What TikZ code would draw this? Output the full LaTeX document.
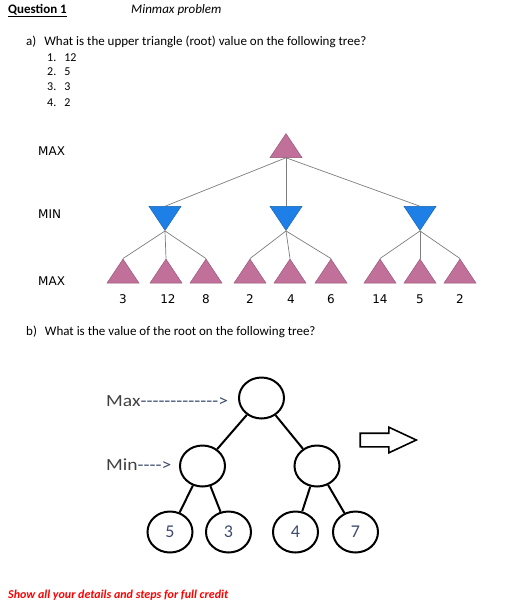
\documentclass[tikz,border=0pt]{standalone}
\usepackage{fontspec}
\setmainfont{Carlito}
\newfontfamily\treefont{DejaVu Sans}
\usetikzlibrary{positioning,shapes.geometric,shapes.arrows}

\definecolor{maxpink}{RGB}{193,112,154}
\definecolor{minblue}{RGB}{30,128,230}
\definecolor{edgegray}{RGB}{125,125,125}
\definecolor{inkgray}{RGB}{64,64,64}
\definecolor{dashblue}{RGB}{60,75,110}

\tikzset{
    maxtri/.style={isosceles triangle, isosceles triangle stretches, shape border rotate=90,
        minimum width=32pt, minimum height=24pt, inner sep=0pt, fill=maxpink, draw=maxpink!75!black, line width=0.4pt},
    mintri/.style={maxtri, shape border rotate=270, fill=minblue, draw=minblue!75!black},
    treeedge/.style={draw=edgegray, line width=0.7pt},
    leafval/.style={font=\treefont\fontsize{12}{14}\selectfont, inner sep=0pt, anchor=base},
    levellabel/.style={font=\treefont\fontsize{12}{14}\selectfont, anchor=base west, inner sep=0pt},
    bubble/.style={ellipse, draw, line width=2pt, minimum width=45pt, minimum height=41pt, inner sep=0pt,
        font=\fontsize{18}{20}\selectfont, text=dashblue},
    bubbleedge/.style={draw, line width=2pt},
    plain/.style={anchor=base west, inner sep=0pt},
    pointer/.style={plain, font=\fontsize{17}{19}\selectfont}
}

\begin{document}
\begin{tikzpicture}[x=1pt, y=-1pt, font=\fontsize{13}{15}\selectfont]
    \useasboundingbox (0,0) rectangle (506,606);

    % heading
    \node[plain] (qtitle) at (8,13) {\textbf{\underline{Question 1}}};
    \node[plain] (qtopic) at (131,13) {\textit{Minmax problem}};

    % part a
    \node[plain] (parta) at (26,45.5) {a)\hspace{8pt}What is the upper triangle (root) value on the following tree?};
    \node[plain] (opt1) at (47,61) {\fontsize{12}{14}\selectfont 1.\hspace{8pt}12};
    \node[plain] (opt2) at (47,75) {\fontsize{12}{14}\selectfont 2.\hspace{8pt}5};
    \node[plain] (opt3) at (47,90) {\fontsize{12}{14}\selectfont 3.\hspace{8pt}3};
    \node[plain] (opt4) at (47,106) {\fontsize{12}{14}\selectfont 4.\hspace{8pt}2};

    \node[levellabel] (lvlmax) at (38,155) {MAX};
    \node[levellabel] (lvlmin) at (38,218) {MIN};
    \node[levellabel] (lvlleaf) at (38,285) {MAX};

    % game tree
    \node[maxtri] (root) at (286,149) {};
    \node[mintri] (minA) at (165,215) {};
    \node[mintri] (minB) at (286,215) {};
    \node[mintri] (minC) at (420,215) {};

    \node[maxtri] (leafA1) at (123,274.5) {};
    \node[maxtri] (leafA2) at (166,274.5) {};
    \node[maxtri] (leafA3) at (206,274.5) {};
    \node[maxtri] (leafB1) at (250,274.5) {};
    \node[maxtri] (leafB2) at (290,274.5) {};
    \node[maxtri] (leafB3) at (331,274.5) {};
    \node[maxtri] (leafC1) at (380,274.5) {};
    \node[maxtri] (leafC2) at (420,274.5) {};
    \node[maxtri] (leafC3) at (460,274.5) {};

    \node[leafval] (valA1) at (123,303) {3};
    \node[leafval] (valA2) at (168,303) {12};
    \node[leafval] (valA3) at (206,303) {8};
    \node[leafval] (valB1) at (250,303) {2};
    \node[leafval] (valB2) at (291,303) {4};
    \node[leafval] (valB3) at (331,303) {6};
    \node[leafval] (valC1) at (380,303) {14};
    \node[leafval] (valC2) at (420,303) {5};
    \node[leafval] (valC3) at (460,303) {2};

    \draw[treeedge] (root.lower side) -- (minA.lower side);
    \draw[treeedge] (root.lower side) -- (minB.lower side);
    \draw[treeedge] (root.lower side) -- (minC.lower side);

    \draw[treeedge] (minA.apex) -- (leafA1.apex);
    \draw[treeedge] (minA.apex) -- (leafA2.apex);
    \draw[treeedge] (minA.apex) -- (leafA3.apex);
    \draw[treeedge] (minB.apex) -- (leafB1.apex);
    \draw[treeedge] (minB.apex) -- (leafB2.apex);
    \draw[treeedge] (minB.apex) -- (leafB3.apex);
    \draw[treeedge] (minC.apex) -- (leafC1.apex);
    \draw[treeedge] (minC.apex) -- (leafC2.apex);
    \draw[treeedge] (minC.apex) -- (leafC3.apex);

    % part b
    \node[plain] (partb) at (26,335) {b)\hspace{8pt}What is the value of the root on the following tree?};

    \node[bubble] (top) at (261.5,398) {};
    \node[bubble] (midL) at (202.5,466) {};
    \node[bubble] (midR) at (317,466) {};
    \node[bubble] (botA) at (170,532) {5};
    \node[bubble] (botB) at (228.5,532) {3};
    \node[bubble] (botC) at (295.5,532) {4};
    \node[bubble] (botD) at (355.5,532) {7};

    \draw[bubbleedge] (top) -- (midL);
    \draw[bubbleedge] (top) -- (midR);
    \draw[bubbleedge] (midL) -- (botA);
    \draw[bubbleedge] (midL) -- (botB);
    \draw[bubbleedge] (midR) -- (botC);
    \draw[bubbleedge] (midR) -- (botD);

    \node[pointer] (maxtag) at (106,406)
        {\scalebox{1.15}[1]{\textcolor{inkgray}{Max}\textcolor{dashblue}{-{}-{}-{}-{}-{}-{}-{}-{}-{}-{}-{}-{}-{}>}}};
    \node[pointer] (mintag) at (106,470)
        {\scalebox{1.15}[1]{\textcolor{inkgray}{Min}\textcolor{dashblue}{-{}-{}-{}-{}>}}};

    \node[single arrow, draw, line width=1.6pt, minimum height=56pt, inner sep=6pt,
        single arrow head extend=6pt, single arrow tip angle=50] (nextarrow) at (381,440) {};

    % footer
    \node[plain, text=red] (credit) at (8,598) {\fontsize{12}{14}\selectfont\textbf{\textit{Show all your details and steps for full credit}}};
\end{tikzpicture}
\end{document}
